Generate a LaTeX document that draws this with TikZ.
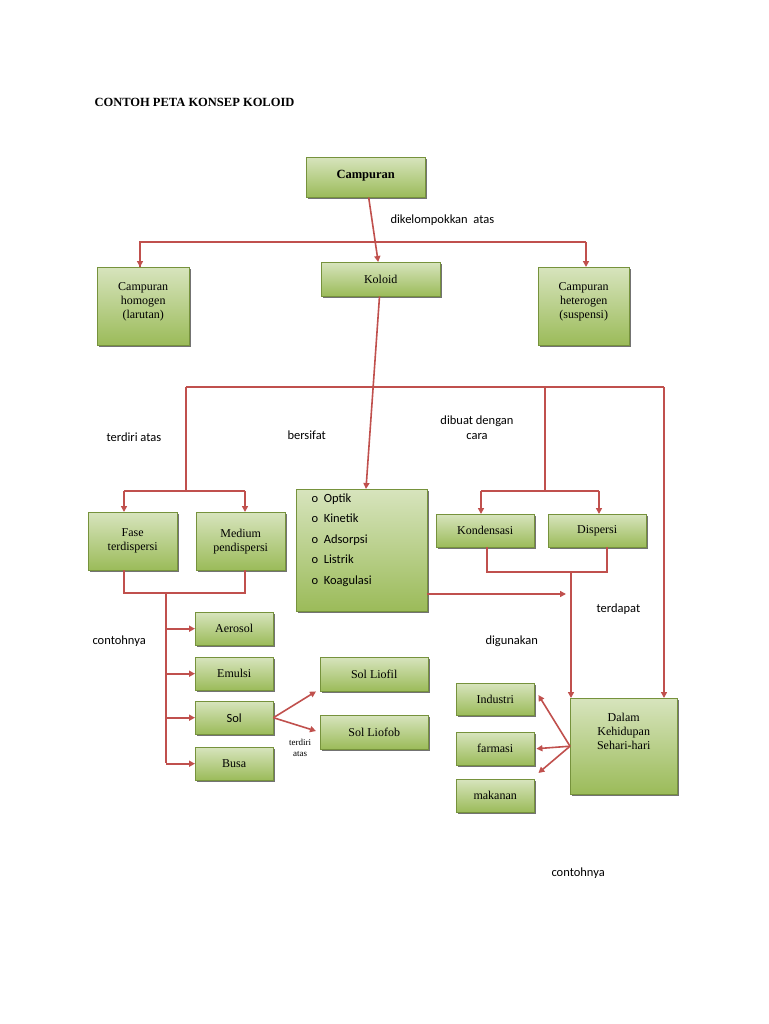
\documentclass[tikz,border=0pt]{standalone}
\usepackage{fontspec}
\setmainfont{Liberation Serif}
\newfontfamily\sansf{Carlito}
\usetikzlibrary{positioning, shadows, arrows.meta}
\definecolor{linkred}{RGB}{192,80,77}
\definecolor{boxtop}{RGB}{215,228,189}
\definecolor{boxbot}{RGB}{155,187,89}
\definecolor{boxline}{RGB}{118,146,60}

\begin{document}
\begin{tikzpicture}[x=1pt, y=-1pt,
    box/.style={rectangle, draw=boxline, top color=boxtop, bottom color=boxbot, align=center,
        drop shadow={shadow xshift=2pt, shadow yshift=-2pt, fill=black!55, opacity=1},
        font=\fontsize{12}{14}\selectfont, inner sep=2pt},
    link/.style={linkred, line width=1.6pt},
    arrow/.style={link, -{Triangle[length=6pt, width=6pt]}},
    lbl/.style={font=\sansf\fontsize{12.5}{15}\selectfont, align=center}]
    \useasboundingbox (0,0) rectangle (768,1024);

    % boxes
    \node [box, font=\bfseries\fontsize{12.5}{14}\selectfont, minimum width=119pt, minimum height=40pt, anchor=north west, text depth=6pt] (campuran) at (306,157) {Campuran};
    \node [box, minimum width=119pt, minimum height=34pt, anchor=north west] (koloid) at (321,262) {Koloid};
    \node [box, minimum width=92pt, minimum height=78pt, anchor=north west, text depth=12pt] (homogen) at (97,267) {Campuran\\homogen\\(larutan)};
    \node [box, minimum width=91pt, minimum height=78pt, anchor=north west, text depth=12pt] (heterogen) at (538,267) {Campuran\\heterogen\\(suspensi)};
    \node [box, minimum width=89pt, minimum height=58pt, anchor=north west] (fase) at (88,512) {Fase\\terdispersi};
    \node [box, minimum width=89pt, minimum height=58pt, anchor=north west] (medium) at (196,512) {Medium\\pendispersi};
    \node [box, minimum width=131pt, minimum height=122pt, anchor=north west] (sifat) at (296,489) {};
    \node [anchor=north west, font=\sansf\fontsize{12.5}{20.5}\selectfont, align=left] at (308,490)
        {o\ \ Optik\\o\ \ Kinetik\\o\ \ Adsorpsi\\o\ \ Listrik\\o\ \ Koagulasi};
    \node [box, minimum width=98pt, minimum height=33pt, anchor=north west] (kondensasi) at (436,514) {Kondensasi};
    \node [box, minimum width=98pt, minimum height=33pt, anchor=north west] (dispersi) at (548,514) {Dispersi};
    \node [box, minimum width=78pt, minimum height=33pt, anchor=north west] (aerosol) at (195,612) {Aerosol};
    \node [box, minimum width=78pt, minimum height=33pt, anchor=north west] (emulsi) at (195,657) {Emulsi};
    \node [box, font=\sansf\fontsize{12.5}{14}\selectfont, minimum width=78pt, minimum height=33pt, anchor=north west] (sol) at (195,701) {Sol};
    \node [box, minimum width=78pt, minimum height=33pt, anchor=north west] (busa) at (195,747) {Busa};
    \node [box, minimum width=108pt, minimum height=34pt, anchor=north west] (liofil) at (320,657) {Sol Liofil};
    \node [box, minimum width=108pt, minimum height=34pt, anchor=north west] (liofob) at (320,715) {Sol Liofob};
    \node [box, minimum width=78pt, minimum height=32pt, anchor=north west] (industri) at (456,683) {Industri};
    \node [box, minimum width=78pt, minimum height=33pt, anchor=north west] (farmasi) at (456,732) {farmasi};
    \node [box, minimum width=78pt, minimum height=33pt, anchor=north west] (makanan) at (456,779) {makanan};
    \node [box, minimum width=107pt, minimum height=96pt, anchor=north west, text depth=30pt] (dalam) at (570,698) {Dalam\\Kehidupan\\Sehari-hari};

    % connectors
    \draw [arrow] (campuran) -- (koloid);
    \draw [link] (homogen.north -| 140,0) |- (586,242) coordinate (kanan);
    \draw [arrow] (140,242) coordinate (kiri) -- (kiri |- homogen.north);
    \draw [arrow] (kanan) -- (kanan |- heterogen.north);
    \draw [arrow] (koloid) -- (sifat);
    \draw [link] (186,387) coordinate (bagiA) -- (664,387) coordinate (bagiD);
    \draw [link] (bagiA) -- (186,491) coordinate (faseAtas);
    \draw [link] (124,491) coordinate (faseL) -- (245,491) coordinate (faseR);
    \draw [arrow] (faseL) -- (faseL |- fase.north);
    \draw [arrow] (faseR) -- (faseR |- medium.north);
    \draw [link] (545,387) coordinate (bagiC) -- (545,491);
    \draw [link] (481,491) coordinate (kondL) -- (599,491) coordinate (kondR);
    \draw [arrow] (kondL) -- (kondL |- kondensasi.north);
    \draw [arrow] (kondR) -- (kondR |- dispersi.north);
    \draw [arrow] (bagiD) -- (bagiD |- dalam.north);
    % contoh fase
    \draw [link] (fase.south -| 124,0) |- (245,593) coordinate (faseBawah) -- (medium.south -| 245,0);
    \draw [link] (166,593) coordinate (cabang) -- (166,763);
    \foreach \tgt in {aerosol, emulsi, sol, busa}
        \draw [arrow] (cabang |- \tgt.west) -- (\tgt.west);
    \draw [arrow] (sol.east) -- ([xshift=-4pt]liofil.south west);
    \draw [arrow] (sol.east) -- ([xshift=-4pt, yshift=-16pt]liofob.north west);
    % kegunaan
    \draw [link] (kondensasi.south -| 487,0) |- (607,572) coordinate (kondBawah) -- (dispersi.south -| 607,0);
    \draw [arrow] (571,572) -- (dalam.north -| 571,0);
    \draw [arrow] (sifat.east |- 0,594) -- (566,594);
    \draw [arrow] (dalam.west) -- ([xshift=4pt, yshift=-12pt]industri.north east);
    \draw [arrow] (dalam.west) -- ([xshift=2pt]farmasi.east);
    \draw [arrow] (dalam.west) -- ([xshift=4pt, yshift=6pt]makanan.north east);

    % labels
    \node [anchor=west, font=\bfseries\fontsize{12.5}{14}\selectfont] (judul) at (91,102) {CONTOH PETA KONSEP KOLOID};
    \node [lbl, anchor=west] (kelompok) at (387,220) {dikelompokkan\ \ atas};
    \node [lbl, anchor=west] (terdiri) at (103,437) {terdiri atas};
    \node [lbl, anchor=west] (bersifat) at (284,435) {bersifat};
    \node [lbl] (dibuat) at (477,428) {dibuat dengan\\cara};
    \node [lbl, anchor=west] (terdapat) at (593,609) {terdapat};
    \node [lbl, anchor=west] (contoh) at (89,641) {contohnya};
    \node [lbl, anchor=west] (guna) at (482,641) {digunakan};
    \node [align=center, font=\fontsize{9}{11}\selectfont] (terdiriB) at (300,748) {terdiri\\atas};
    \node [lbl, anchor=west] (contohB) at (548,873) {contohnya};
\end{tikzpicture}
\end{document}
